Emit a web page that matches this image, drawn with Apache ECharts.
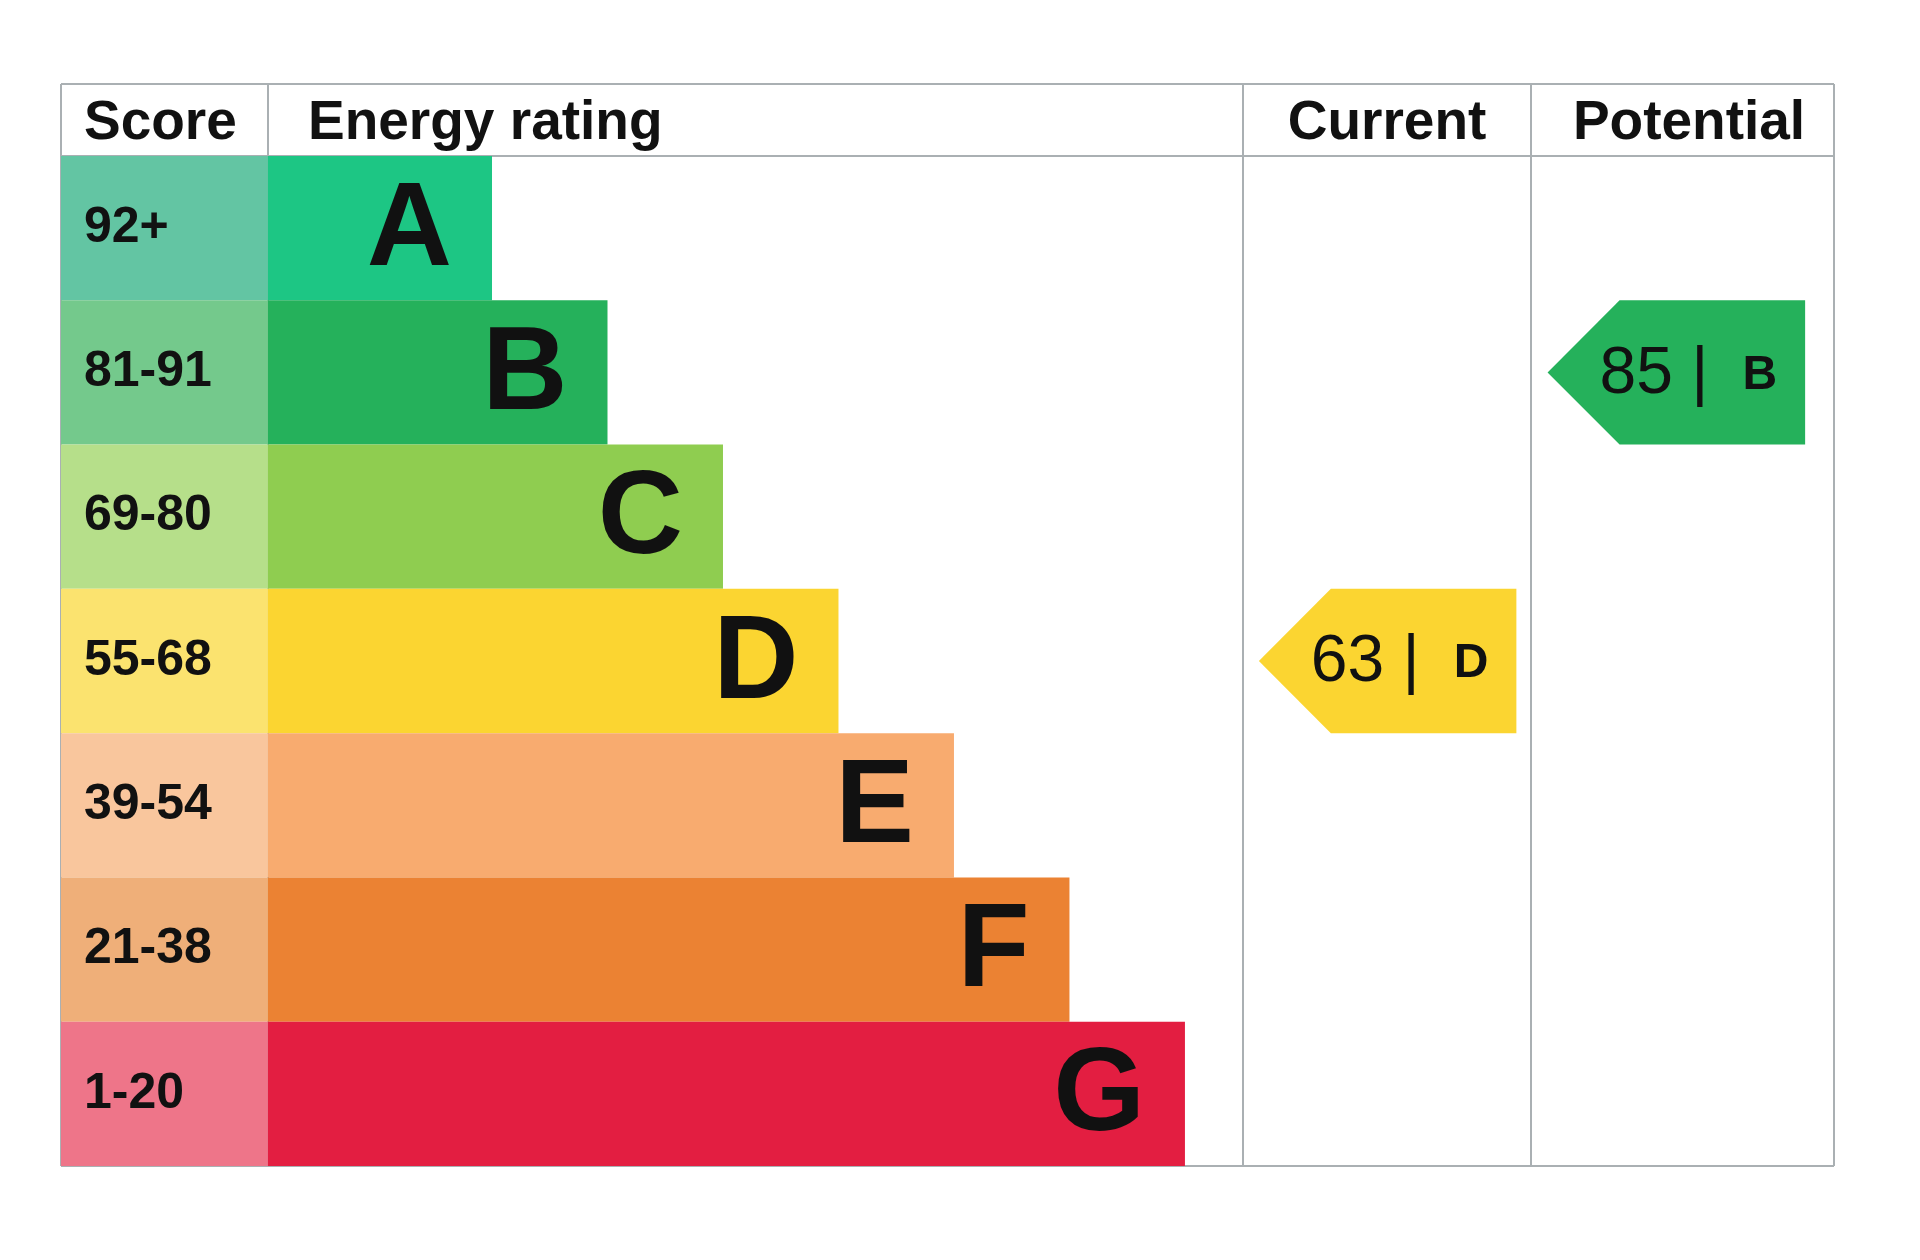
<!DOCTYPE html>
<html>
<head>
<meta charset="utf-8">
<script src="https://cdn.jsdelivr.net/npm/echarts@6/dist/echarts.min.js"></script>
<style>html,body{margin:0;background:#fff}#chart{width:1920px;height:1260px}</style>
</head>
<body>
<div id="chart"></div>
<script>
const bands = ['A', 'B', 'C', 'D', 'E', 'F', 'G'];
const scoreRanges = ['92+', '81-91', '69-80', '55-68', '39-54', '21-38', '1-20'];
const barEnds = [1.94, 2.94, 3.94, 4.94, 5.94, 6.94, 7.94];
const scoreColors = ['#63c5a3', '#74c98c', '#b6df8a', '#fbe36f', '#f9c69d', '#efaf79', '#ee7589'];
const barColors = ['#1dc684', '#25b15b', '#8fcd50', '#fbd531', '#f8ab6f', '#eb8233', '#e31e41'];
const currentScore = 63, currentBand = 'D';
const potentialScore = 85, potentialBand = 'B';

const FONT = '"Liberation Sans", Arial, sans-serif';
const LINE = '#aab0b3';
const SCORE_X = -1.792, COL1 = 8.44, COL2 = 10.94, RIGHT = 13.56;

function rowItem(params, api) {
  const i = api.value(0);
  const left = api.coord([SCORE_X, i]);
  const h = api.size([0, 1])[1];
  const top = left[1] - h / 2;
  const x0 = api.coord([0, i])[0];
  const x1 = api.coord([api.value(1), i])[0];
  return {
    type: 'group',
    children: [
      { type: 'rect', shape: { x: left[0], y: top, width: x0 - left[0], height: h },
        style: { fill: scoreColors[i] } },
      { type: 'rect', shape: { x: x0, y: top, width: x1 - x0, height: h },
        style: { fill: barColors[i] } },
      { type: 'text', x: left[0] + 23, y: left[1],
        style: { text: scoreRanges[i], font: 'bold 50px ' + FONT, fill: '#111',
          textAlign: 'left', textVerticalAlign: 'middle' } },
      { type: 'text', x: x1 - 40, y: left[1] + 4,
        style: { text: bands[i], font: 'bold 118px ' + FONT, fill: '#111',
          textAlign: 'right', textVerticalAlign: 'middle' } }
    ]
  };
}

function arrowItem(params, api) {
  const i = api.value(0);
  const xs = api.value(1), xe = api.value(2);
  const c = api.coord([xs, i]);
  const h = api.size([0, 1])[1];
  const xr = api.coord([xe, i])[0];
  const tip = 72;
  const top = c[1] - h / 2, bot = c[1] + h / 2;
  return {
    type: 'group',
    children: [
      { type: 'polygon', shape: { points: [[c[0], c[1]], [c[0] + tip, top], [xr, top], [xr, bot], [c[0] + tip, bot]] },
        style: { fill: barColors[i] } },
      { type: 'text', x: c[0] + 52, y: c[1] + 2,
        style: { text: api.value(3) + ' |', font: '66px ' + FONT, fill: '#111',
          textAlign: 'left', textVerticalAlign: 'middle' } },
      { type: 'text', x: xr - 28, y: c[1] + 3,
        style: { text: bands[i], font: 'bold 48px ' + FONT, fill: '#111',
          textAlign: 'right', textVerticalAlign: 'middle' } }
    ]
  };
}

const chart = echarts.init(document.getElementById('chart'));
const headerY = 124;
const hText = (x, t, align) => ({
  type: 'text', x: x, y: headerY,
  style: { text: t, font: 'bold 55px ' + FONT, fill: '#111', textAlign: align, textVerticalAlign: 'middle' }
});
const vline = (x) => ({ type: 'line', shape: { x1: x, y1: 84, x2: x, y2: 1166 }, style: { stroke: LINE, lineWidth: 2 } });
const hline = (y) => ({ type: 'line', shape: { x1: 61, y1: y, x2: 1834, y2: y }, style: { stroke: LINE, lineWidth: 2 } });

chart.setOption({
  animation: false,
  grid: { left: 61, right: 86, top: 156, bottom: 94 },
  xAxis: { type: 'value', min: SCORE_X, max: RIGHT, show: false },
  yAxis: { type: 'category', data: bands, inverse: true, show: false },
  graphic: [
    vline(61), vline(268), vline(1243), vline(1531), vline(1834),
    hline(84), hline(156), hline(1166),
    hText(84, 'Score', 'left'), hText(308, 'Energy rating', 'left'),
    hText(1387, 'Current', 'center'), hText(1689, 'Potential', 'center')
  ],
  series: [
    {
      type: 'custom',
      renderItem: rowItem,
      data: bands.map((b, i) => [i, barEnds[i]]),
      z: 1
    },
    {
      type: 'custom',
      renderItem: arrowItem,
      data: [
        [bands.indexOf(currentBand), 8.58, 10.81, currentScore],
        [bands.indexOf(potentialBand), 11.08, 13.31, potentialScore]
      ],
      z: 2
    }
  ]
});
</script>
</body>
</html>
